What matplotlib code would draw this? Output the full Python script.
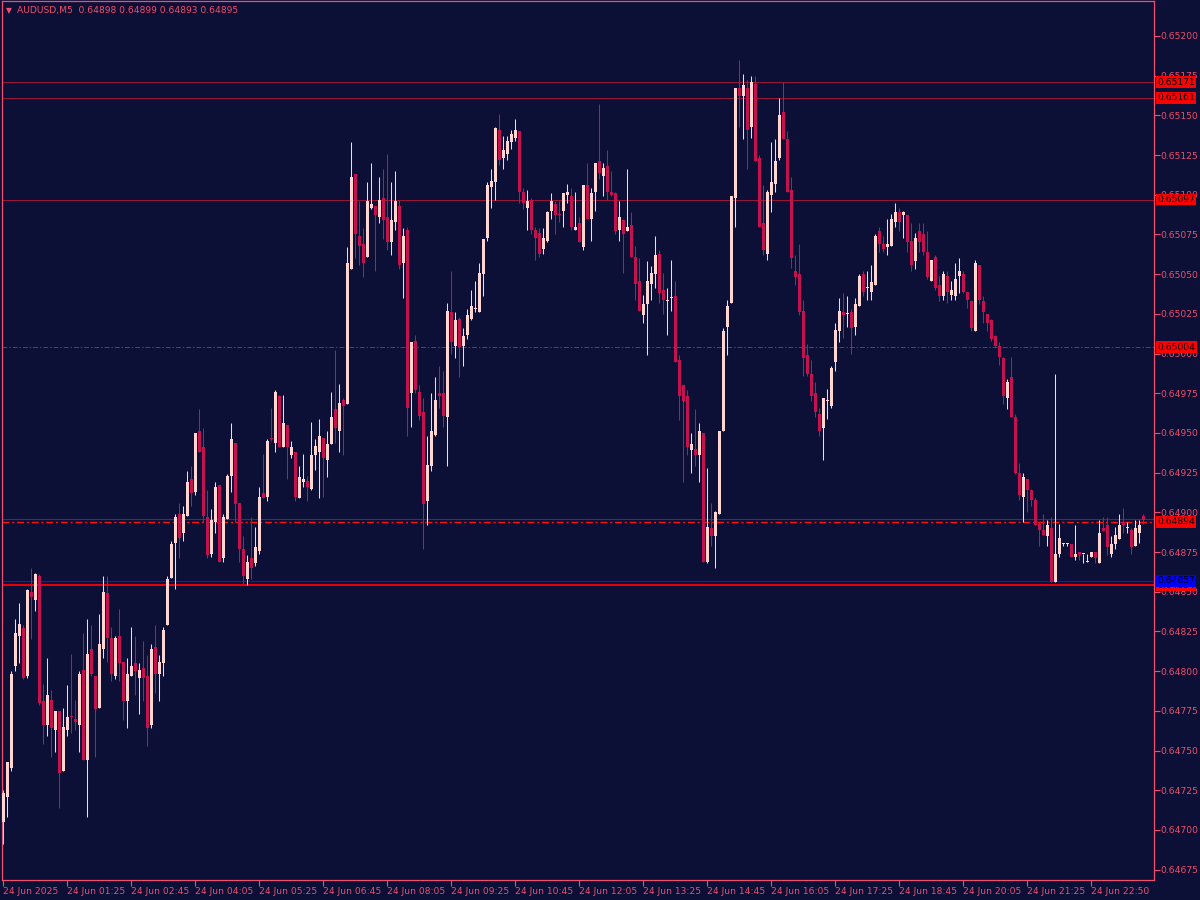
import numpy as np
import matplotlib
matplotlib.use("Agg")
import matplotlib.pyplot as plt

# AUDUSD M5, 24 Jun 2025 -- prices in points (1e-5)
opens = [
    64705, 64721, 64739, 64803, 64822, 64827, 64797, 64850, 64845, 64860, 64781, 64766, 64782, 64763, 64775, 64737,
    64763, 64772, 64770, 64766, 64801, 64744, 64814, 64797, 64777, 64814, 64849, 64821, 64797, 64822, 64806, 64781,
    64797, 64805, 64796, 64802, 64797, 64766, 64815, 64798, 64805, 64829, 64859, 64881, 64899, 64887, 64898, 64921,
    64913, 64951, 64941, 64897, 64874, 64894, 64917, 64871, 64896, 64923, 64944, 64906, 64877, 64858, 64871, 64868,
    64876, 64912, 64910, 64947, 64944, 64973, 64941, 64955, 64936, 64938, 64909, 64919, 64920, 64915, 64936, 64938,
    64947, 64933, 64943, 64965, 64951, 64971, 64968, 65053, 65113, 65074, 65069, 65061, 65092, 65093, 65086, 65098,
    65086, 65070, 65083, 65093, 65057, 65078, 64975, 65008, 64976, 64963, 64907, 64929, 64949, 64975, 64975, 64960,
    65026, 65005, 65022, 65005, 65012, 65022, 65028, 65026, 65050, 65073, 65105, 65108, 65141, 65123, 65126, 65133,
    65136, 65140, 65102, 65092, 65097, 65078, 65076, 65066, 65071, 65090, 65094, 65088, 65090, 65100, 65099, 65078,
    65082, 65067, 65106, 65085, 65102, 65121, 65112, 65118, 65102, 65101, 65078, 65084, 65077, 65081, 65061, 65046,
    65024, 65031, 65044, 65050, 65063, 65040, 65033, 65035, 65036, 64996, 64980, 64973, 64939, 64940, 64936, 64950,
    64869, 64890, 64885, 64899, 64951, 65017, 65032, 65098, 65167, 65162, 65167, 65143, 65170, 65123, 65082, 65063,
    65100, 65107, 65123, 65152, 65135, 65103, 65052, 65050, 65027, 64999, 64987, 64975, 64962, 64953, 64970, 64967,
    64995, 65014, 65026, 65025, 65026, 65017, 65030, 65050, 65041, 65039, 65043, 65077, 65069, 65067, 65068, 65083,
    65089, 65087, 65087, 65071, 65058, 65077, 65075, 65064, 65046, 65061, 65043, 65036, 65049, 65037, 65036, 65049,
    65050, 65039, 65033, 65014, 65056, 65033, 65025, 65021, 65011, 65005, 64997, 64972, 64985, 64960, 64925, 64910,
    64921, 64914, 64908, 64893, 64889, 64885, 64890, 64856, 64874, 64880, 64880, 64880, 64872, 64875, 64874, 64869,
    64872, 64875, 64868, 64890, 64892, 64874, 64880, 64883, 64894, 64890, 64889, 64879, 64887, 64898,
]
highs = [
    64725, 64743, 64800, 64833, 64843, 64829, 64852, 64865, 64862, 64861, 64792, 64808, 64788, 64775, 64775, 64777,
    64791, 64811, 64782, 64800, 64824, 64833, 64829, 64797, 64836, 64860, 64860, 64828, 64822, 64839, 64806, 64808,
    64828, 64822, 64805, 64819, 64810, 64817, 64829, 64810, 64828, 64860, 64882, 64899, 64906, 64904, 64926, 64929,
    64950, 64965, 64953, 64914, 64902, 64919, 64917, 64899, 64924, 64956, 64944, 64906, 64885, 64873, 64897, 64891,
    64916, 64937, 64946, 64966, 64977, 64974, 64974, 64955, 64945, 64938, 64929, 64937, 64923, 64957, 64946, 64959,
    64947, 64951, 64976, 65002, 64981, 64972, 65067, 65133, 65113, 65096, 65079, 65108, 65120, 65093, 65111, 65116,
    65126, 65108, 65115, 65097, 65079, 65080, 65007, 65012, 64980, 64972, 64948, 64975, 64985, 64992, 64989, 65032,
    65052, 65026, 65023, 65016, 65028, 65040, 65046, 65057, 65072, 65108, 65116, 65143, 65151, 65137, 65137, 65141,
    65148, 65140, 65104, 65103, 65098, 65080, 65079, 65079, 65090, 65101, 65096, 65096, 65101, 65107, 65104, 65102,
    65086, 65106, 65120, 65104, 65120, 65157, 65120, 65128, 65115, 65102, 65096, 65084, 65116, 65089, 65068, 65060,
    65037, 65058, 65055, 65074, 65065, 65051, 65041, 65059, 65046, 64999, 64980, 64977, 64950, 64965, 64956, 64950,
    64928, 64906, 64901, 64951, 65016, 65034, 65099, 65167, 65185, 65176, 65172, 65175, 65175, 65125, 65106, 65103,
    65133, 65135, 65161, 65171, 65140, 65111, 65062, 65069, 65034, 65006, 64996, 64982, 64966, 64972, 64978, 64992,
    65019, 65035, 65038, 65036, 65028, 65035, 65050, 65052, 65052, 65056, 65075, 65080, 65074, 65085, 65088, 65095,
    65092, 65090, 65087, 65082, 65076, 65082, 65082, 65077, 65059, 65062, 65049, 65052, 65052, 65046, 65057, 65060,
    65052, 65039, 65034, 65059, 65056, 65036, 65025, 65022, 65012, 65007, 64998, 64984, 64998, 64962, 64931, 64925,
    64921, 64915, 64909, 64894, 64899, 64895, 64897, 64987, 64893, 64881, 64881, 64880, 64892, 64875, 64874, 64874,
    64875, 64875, 64895, 64897, 64897, 64885, 64891, 64899, 64903, 64894, 64890, 64895, 64895, 64899,
]
lows = [
    64691, 64708, 64737, 64800, 64805, 64795, 64796, 64820, 64838, 64779, 64754, 64759, 64746, 64749, 64714, 64737,
    64759, 64761, 64763, 64749, 64744, 64708, 64797, 64746, 64777, 64808, 64806, 64794, 64795, 64794, 64769, 64764,
    64797, 64785, 64773, 64781, 64753, 64764, 64786, 64781, 64797, 64829, 64859, 64852, 64871, 64882, 64898, 64904,
    64911, 64938, 64894, 64871, 64872, 64887, 64869, 64869, 64896, 64913, 64894, 64869, 64855, 64854, 64858, 64866,
    64874, 64909, 64907, 64945, 64938, 64941, 64941, 64921, 64934, 64907, 64909, 64916, 64907, 64914, 64927, 64909,
    64910, 64922, 64943, 64944, 64938, 64936, 64968, 65053, 65060, 65056, 65048, 65061, 65091, 65052, 65082, 65072,
    65065, 65062, 65078, 65053, 65035, 64948, 64954, 64975, 64958, 64877, 64892, 64926, 64948, 64966, 64954, 64929,
    65000, 64997, 64985, 64992, 65009, 65021, 65026, 65026, 65036, 65071, 65092, 65097, 65119, 65116, 65122, 65129,
    65134, 65095, 65091, 65078, 65075, 65059, 65061, 65063, 65070, 65085, 65075, 65083, 65080, 65095, 65078, 65078,
    65070, 65065, 65085, 65071, 65090, 65110, 65099, 65097, 65099, 65075, 65071, 65051, 65077, 65061, 65034, 65027,
    65019, 64999, 65034, 65041, 65032, 65025, 65012, 65027, 64995, 64958, 64919, 64936, 64925, 64929, 64919, 64869,
    64868, 64879, 64865, 64899, 64951, 64999, 65032, 65080, 65143, 65135, 65116, 65136, 65121, 65080, 65062, 65059,
    65089, 65102, 65122, 65135, 65102, 65054, 65043, 65024, 64986, 64986, 64970, 64960, 64948, 64933, 64959, 64966,
    64989, 65007, 65010, 65017, 65000, 65012, 65030, 65036, 65034, 65034, 65043, 65064, 65064, 65062, 65068, 65080,
    65077, 65073, 65064, 65052, 65053, 65064, 65062, 65047, 65046, 65040, 65033, 65034, 65032, 65034, 65034, 65038,
    65038, 65029, 65014, 65014, 65031, 65019, 65014, 65008, 65004, 64993, 64968, 64965, 64960, 64924, 64908, 64894,
    64900, 64904, 64892, 64879, 64886, 64879, 64856, 64856, 64872, 64879, 64879, 64872, 64870, 64870, 64868, 64869,
    64872, 64868, 64868, 64888, 64873, 64872, 64877, 64883, 64887, 64887, 64874, 64879, 64881, 64893,
]
closes = [
    64723, 64743, 64798, 64824, 64830, 64796, 64851, 64847, 64861, 64780, 64766, 64785, 64764, 64775, 64736, 64765,
    64771, 64771, 64768, 64798, 64744, 64811, 64798, 64776, 64817, 64850, 64821, 64798, 64821, 64805, 64781, 64798,
    64803, 64800, 64801, 64796, 64764, 64814, 64798, 64806, 64826, 64858, 64880, 64897, 64884, 64899, 64919, 64912,
    64950, 64938, 64898, 64873, 64895, 64916, 64869, 64897, 64923, 64946, 64905, 64877, 64860, 64869, 64865, 64878,
    64910, 64909, 64945, 64946, 64976, 64941, 64956, 64941, 64941, 64910, 64922, 64921, 64916, 64936, 64942, 64948,
    64934, 64943, 64960, 64953, 64969, 64967, 65057, 65111, 65075, 65068, 65057, 65096, 65094, 65087, 65097, 65084,
    65070, 65084, 65096, 65056, 65074, 64966, 65007, 64977, 64961, 64905, 64930, 64951, 64971, 64973, 64961, 65027,
    65007, 65021, 65004, 65011, 65024, 65030, 65028, 65051, 65072, 65106, 65109, 65142, 65122, 65128, 65134, 65138,
    65141, 65102, 65095, 65096, 65078, 65073, 65063, 65073, 65089, 65096, 65087, 65087, 65101, 65102, 65080, 65080,
    65070, 65106, 65085, 65101, 65120, 65114, 65117, 65102, 65100, 65077, 65086, 65075, 65080, 65061, 65044, 65027,
    65031, 65046, 65051, 65062, 65038, 65034, 65033, 65035, 64995, 64973, 64970, 64941, 64943, 64936, 64951, 64869,
    64891, 64885, 64900, 64951, 65014, 65030, 65099, 65167, 65162, 65169, 65141, 65171, 65121, 65080, 65065, 65102,
    65108, 65121, 65150, 65135, 65102, 65060, 65048, 65026, 64997, 64987, 64973, 64963, 64951, 64972, 64970, 64991,
    65015, 65027, 65024, 65025, 65016, 65031, 65049, 65039, 65041, 65045, 65074, 65069, 65066, 65069, 65085, 65089,
    65083, 65089, 65070, 65056, 65073, 65070, 65064, 65048, 65059, 65041, 65036, 65050, 65039, 65040, 65047, 65052,
    65039, 65034, 65016, 65057, 65034, 65026, 65019, 65009, 65005, 64998, 64973, 64982, 64960, 64925, 64911, 64922,
    64914, 64908, 64892, 64889, 64886, 64892, 64856, 64874, 64884, 64880, 64880, 64872, 64874, 64873, 64874, 64869,
    64875, 64871, 64887, 64888, 64878, 64880, 64886, 64892, 64892, 64891, 64878, 64890, 64892, 64895,
]

tick_labels = ["24 Jun 2025", "24 Jun 01:25", "24 Jun 02:45", "24 Jun 04:05", "24 Jun 05:25",
               "24 Jun 06:45", "24 Jun 08:05", "24 Jun 09:25", "24 Jun 10:45", "24 Jun 12:05",
               "24 Jun 13:25", "24 Jun 14:45", "24 Jun 16:05", "24 Jun 17:25", "24 Jun 18:45",
               "24 Jun 20:05", "24 Jun 21:25", "24 Jun 22:50"]
thin_levels = [0.65171, 0.65161, 0.65097]
dash_level = 0.65004
bid_level = 0.64894
support_level = 0.64854
blue_level = 0.64857
title = "AUDUSD,M5  0.64898 0.64899 0.64893 0.64895"

o = np.array(opens) / 1e5
h = np.array(highs) / 1e5
l = np.array(lows) / 1e5
c = np.array(closes) / 1e5
x = np.arange(len(o))

bg = "#0c0f36"
fg = "#f04e6a"
bull = "#ffd6d2"
bear = "#c41250"
fs = 6.6

fig = plt.figure(figsize=(12, 9), dpi=100, facecolor=bg)
ax = fig.add_axes([2 / 1200, 20 / 900, 1152 / 1200, 879 / 900])
ax.set_facecolor(bg)

up = c >= o
cols = np.where(up, bull, bear)
ax.vlines(x, np.minimum(l, np.minimum(o, c)), np.maximum(h, np.maximum(o, c)),
          colors=cols, linewidth=0.75, zorder=3)
body_h = np.maximum(np.abs(c - o), 0.0000065)
ax.bar(x, body_h, bottom=np.minimum(o, c), width=0.75, color=cols,
       linewidth=0, zorder=4)

# horizontal levels
for lv in thin_levels:
    ax.axhline(lv, color="#b01838", linewidth=0.6, zorder=2)
ax.axhline(dash_level, color="#c01838", linewidth=0.7, linestyle=(0, (5, 2, 1.5, 2)), zorder=2)
ax.axhline(bid_level + 0.000017, color="#34402e", linewidth=0.8, zorder=2)
ax.axhline(bid_level, color="#ff1010", linewidth=1.0, linestyle=(0, (5, 2, 1.5, 2)), zorder=2)
ax.axhline(blue_level, color="#1010ff", linewidth=0.8, zorder=2)
ax.axhline(support_level, color="#ff0000", linewidth=1.3, zorder=2)

ax.set_xlim(-0.25, 287.75)
ax.set_ylim(0.6466851, 0.6522204)

yt = np.round(np.arange(0.64675, 0.652001, 0.00025), 5)
ax.set_yticks(yt)
ax.set_yticklabels([f"{v:.5f}" for v in yt])
ax.yaxis.tick_right()
ax.set_xticks(list(range(0, 16 * len(tick_labels), 16)))
ax.set_xticklabels(tick_labels)
for lab in ax.get_xticklabels():
    lab.set_horizontalalignment("left")
ax.tick_params(axis="both", colors=fg, labelsize=fs, length=4, width=0.8,
               labelfontfamily="DejaVu Sans")
ax.tick_params(axis="y", pad=0.8)
ax.tick_params(axis="x", pad=1.0)
for sp in ax.spines.values():
    sp.set_color(fg)
    sp.set_linewidth(0.9)

# price tags on the right scale
tags = [(0.65171, "#ff0000"), (0.65161, "#ff0000"), (0.65097, "#ff0000"),
        (0.65004, "#ff0000"), (0.64894, "#ff0000"), (0.64854, "#ff0000"),
        (0.64857, "#0000ff")]
for val, fc in tags:
    ax.text(1.0028, val, f"{val:.5f}", transform=ax.get_yaxis_transform(),
            ha="left", va="center", fontsize=fs, color="black", clip_on=False,
            zorder=10, bbox=dict(boxstyle="square,pad=0.15", fc=fc, ec="none"))

ax.text(0.0035, 0.9895, "\u25bc", transform=ax.transAxes, fontsize=5.5, color=fg,
        ha="left", va="center")
ax.text(0.013, 0.9895, title, transform=ax.transAxes, fontsize=fs, color=fg,
        ha="left", va="center")

fig.savefig("out.png", dpi=100, facecolor=bg)
